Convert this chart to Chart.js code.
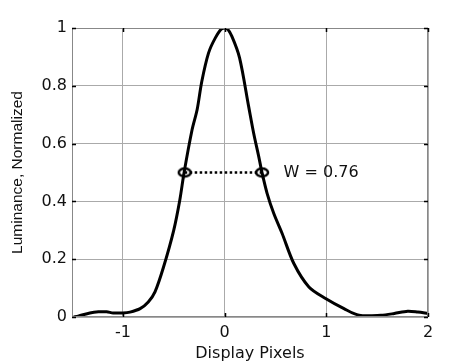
<!DOCTYPE html>
<html>
<head>
<meta charset="utf-8">
<script src="https://cdn.jsdelivr.net/npm/chart.js@4/dist/chart.umd.min.js"></script>
<style>
  html, body { margin: 0; padding: 0; background: #fff; }
  #wrap { width: 474px; height: 364px; }
</style>
</head>
<body>
<div id="wrap"><canvas id="c" width="474" height="364"></canvas></div>
<script>
"use strict";

// luminance profile
const xPixels = [-1.484, -1.44, -1.324, -1.24, -1.16, -1.095, -1.0, -0.93, -0.83, -0.75,
    -0.684, -0.60, -0.50, -0.44, -0.398, -0.32, -0.27, -0.224, -0.158, -0.092,
    -0.026, 0.023, 0.072, 0.148, 0.237, 0.286, 0.336, 0.368, 0.418, 0.484,
    0.566, 0.681, 0.829, 0.993, 1.174, 1.322, 1.536, 1.668, 1.80, 1.90, 2.0];
const luminance = [0.0, 0.003, 0.014, 0.018, 0.018, 0.014, 0.014, 0.017, 0.029, 0.052,
    0.087, 0.173, 0.30, 0.405, 0.50, 0.647, 0.717, 0.815, 0.913, 0.965,
    0.998, 0.998, 0.971, 0.896, 0.728, 0.636, 0.555, 0.50, 0.428, 0.358,
    0.289, 0.185, 0.104, 0.064, 0.029, 0.006, 0.006, 0.012, 0.02, 0.017, 0.012];

// half-maximum markers
const halfX = [-0.392, 0.368];
const halfY = [0.5, 0.5];
const widthLabel = "W = 0.76";
const labelAt = [0.58, 0.5];

const xTicks = [-1, 0, 1, 2];
const yTicks = [0, 0.2, 0.4, 0.6, 0.8, 1];

const WIDE = "'DejaVu Sans', Verdana, sans-serif";
const NARROW = "'Liberation Sans', Arial, sans-serif";

// ellipse marker like the original's squashed circles
function ellipseMarker() {
    const c = document.createElement("canvas");
    c.width = 16; c.height = 12;
    const g = c.getContext("2d");
    g.lineWidth = 2.5;
    g.strokeStyle = "#000";
    g.beginPath();
    g.ellipse(8, 6, 6, 4, 0, 0, Math.PI * 2);
    g.stroke();
    return c;
}

const boxPlugin = {
    id: "box",
    afterDraw(chart) {
        const {ctx, chartArea: a, scales} = chart;
        ctx.save();
        ctx.strokeStyle = "#888";
        ctx.lineWidth = 1;
        ctx.strokeRect(a.left + 0.5, a.top + 0.5, a.right - a.left - 1, a.bottom - a.top - 1);
        ctx.strokeStyle = "#000";
        ctx.lineWidth = 1.5;
        ctx.beginPath();
        xTicks.forEach(v => {
            const px = Math.round(scales.x.getPixelForValue(v)) + 0.5;
            ctx.moveTo(px, a.bottom); ctx.lineTo(px, a.bottom - 4);
            ctx.moveTo(px, a.top); ctx.lineTo(px, a.top + 4);
        });
        yTicks.forEach(v => {
            const py = Math.round(scales.y.getPixelForValue(v)) + 0.5;
            ctx.moveTo(a.left, py); ctx.lineTo(a.left + 4, py);
            ctx.moveTo(a.right, py); ctx.lineTo(a.right - 4, py);
        });
        ctx.stroke();
        ctx.fillStyle = "#111";
        ctx.font = "16px " + WIDE;
        ctx.textBaseline = "middle";
        ctx.fillText(widthLabel, scales.x.getPixelForValue(labelAt[0]),
            scales.y.getPixelForValue(labelAt[1]));
        ctx.restore();
    }
};

new Chart(document.getElementById("c"), {
    type: "scatter",
    data: {
        datasets: [
            {
                data: xPixels.map((x, i) => ({x, y: luminance[i]})),
                showLine: true,
                borderColor: "#000",
                borderWidth: 3,
                pointRadius: 0,
                tension: 0.3
            },
            {
                data: halfX.map((x, i) => ({x, y: halfY[i]})),
                showLine: true,
                borderColor: "#000",
                borderWidth: 2.5,
                borderDash: [2.5, 2.5],
                pointStyle: ellipseMarker(),
                pointRadius: 6
            }
        ]
    },
    options: {
        responsive: false,
        animation: false,
        layout: {padding: {top: 28, right: 46, left: 0, bottom: 0}},
        plugins: {legend: {display: false}, tooltip: {enabled: false}},
        scales: {
            x: {
                type: "linear", min: -1.5, max: 2,
                afterBuildTicks: s => { s.ticks = xTicks.map(v => ({value: v})); },
                afterFit: s => { s.height = 47; },
                grid: {color: "#aaa", lineWidth: 1, drawTicks: false},
                border: {display: false},
                ticks: {color: "#111", padding: 6, font: {size: 16, family: WIDE},
                    maxRotation: 0, callback: v => String(v)},
                title: {display: true, text: "Display Pixels", color: "#111",
                    font: {size: 16, family: WIDE}, padding: {top: 0, bottom: 1}}
            },
            y: {
                min: 0, max: 1,
                afterBuildTicks: s => { s.ticks = yTicks.map(v => ({value: v})); },
                afterFit: s => { s.width = 72; },
                grid: {color: "#aaa", lineWidth: 1, drawTicks: false},
                border: {display: false},
                ticks: {color: "#111", padding: 5, font: {size: 16, family: WIDE},
                    callback: v => String(v)},
                title: {display: true, text: "Luminance, Normalized", color: "#111",
                    font: {size: 15.5, family: NARROW}, padding: {top: 8, bottom: 0}}
            }
        }
    },
    plugins: [boxPlugin]
});
</script>
</body>
</html>
